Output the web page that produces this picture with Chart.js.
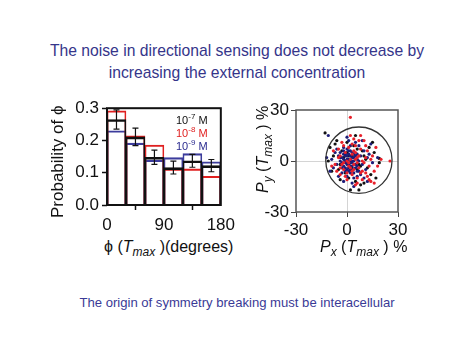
<!DOCTYPE html>
<html lang="en">
<head>
  <meta charset="UTF-8" />
  <title>Directional sensing noise</title>
  <script src="https://cdn.jsdelivr.net/npm/chart.js"></script>
  <style>
    html, body { margin: 0; padding: 0; background: #fff; }
    body { width: 474px; height: 355px; position: relative; overflow: hidden; font-family: "Liberation Sans", Arial, sans-serif; }
    .title { position: absolute; left: 0; top: 40px; width: 474px; text-align: center; color: #35358a; font-size: 15.7px; line-height: 22px; }
    .footer { position: absolute; left: 0; top: 295px; width: 474px; text-align: center; color: #3a3a96; font-size: 13.1px; }
    .lbl { position: absolute; color: #111; font-size: 15px; white-space: nowrap; }
    .lbl sub { font-size: 12px; }
    .rot { transform-origin: left top; transform: rotate(-90deg); }
    .leg { position: absolute; left: 176px; font-size: 11px; line-height: 12px; }
    .leg sup { font-size: 8px; }
    canvas { position: absolute; }
  </style>
</head>
<body>
  <div class="title">The noise in directional sensing does not decrease by<br>increasing the external concentration</div>

  <canvas id="histChart" style="left:40px; top:95px; width:200px; height:140px;" width="200" height="140"></canvas>
  <canvas id="scatterChart" style="left:255px; top:95px; width:160px; height:145px;" width="160" height="145"></canvas>

  <!-- axis titles -->
  <div class="lbl rot" style="left:48px; top:218px; font-size:17px;">Probability of ϕ</div>
  <div class="lbl" style="left:104px; top:238px; font-size:16px;">ϕ (<i>T<sub>max</sub></i> )(degrees)</div>
  <div class="lbl rot" style="left:254px; top:193px; font-size:16px;"><i>P<sub>y</sub></i> (<i>T<sub>max</sub></i> ) %</div>
  <div class="lbl" style="left:320px; top:238px; font-size:16px;"><i>P<sub>x</sub></i> (<i>T<sub>max</sub></i> ) %</div>

  <div class="leg" style="top:111px; color:#111;">10<sup>-7</sup> M</div>
  <div class="leg" style="top:124px; color:#e02020;">10<sup>-8</sup> M</div>
  <div class="leg" style="top:137px; color:#2b2b8f;">10<sup>-9</sup> M</div>

  <div class="footer">The origin of symmetry breaking must be interacellular</div>

  <script>
    // histogram of phi(Tmax), 30 degree bins
    const binCenters = [15, 45, 75, 105, 135, 165];
    const prob7 = [0.265, 0.211, 0.148, 0.116, 0.137, 0.122];   // 10^-7 M
    const err7  = [0.030, 0.027, 0.022, 0.020, 0.020, 0.019];
    const prob8 = [0.292, 0.214, 0.186, 0.112, 0.112, 0.089];   // 10^-8 M
    const prob9 = [0.230, 0.192, 0.139, 0.147, 0.159, 0.134];   // 10^-9 M
    const histTicksY = [0, 0.1, 0.2, 0.3];
    const histTicksX = [0, 90, 180];

    // Px, Py (percent) at Tmax
    const pts7 = [[2,-17],[7,-17],[19,-1],[-11,0],[-9,-6],[10,-13],[13,8],[-7,10],[5,15],[-4,-11],[14,-8],[16,5],[0,5],[3,-4],[-3,6],[8,-3],[6,7],[-5,-5],[11,1],[1,-10],[9,6],[-8,3],[4,9],[2,-1],[-1,-7],[12,-4],[-6,12],[17,-10],[15,11],[0,11],[5,-12],[-2,2],[10,3],[7,-2],[3,3],[-10,8],[8,-14],[-4,-2],[1,3],[6,-5],[19,1.5],[-12.9,16.5]];
    const pts8 = [[2,25.7],[25.3,0],[10,12],[8,15],[4,13],[-3,11],[-7,-2],[-5,2],[0,0],[2,-4],[5,5],[7,-4],[9,0],[11,-7],[13,-3],[12,6],[6,-10],[3,-8],[-2,-5],[-4,-8],[1,8],[4,-2],[6,2],[-1,5],[8,7],[10,-1],[14,1],[16,-6],[17,8],[5,-14],[9,-11],[-6,-6],[-8,6],[0,-11],[3,10],[7,3],[2,1],[-3,-2],[1,-3],[4,6],[11,9],[13,-11],[-9,-3],[15,3],[7,12],[-2,9],[0,-7],[6,-1],[3,4],[9,-6],[12,-9],[5,9],[-5,7],[18,-3],[20,1],[16,-13],[-1,-9],[8,-7],[2,15],[11,2],[-4,3],[6,-13],[14,-12],[1,-1],[-2,-1],[4,-5],[3,-6],[-4,-4],[5,1]];
    const pts9 = [[-3,2],[-1,4],[0,1],[1,-2],[2,3],[3,-1],[-2,-3],[4,2],[1,6],[-4,0],[0,-5],[2,-7],[5,-4],[6,1],[-1,-1],[3,5],[-5,3],[-6,-2],[7,-6],[8,3],[2,9],[-2,8],[9,-2],[10,6],[4,-10],[0,-9],[-3,-7],[6,-9],[-7,5],[-8,-4],[1,12],[5,11],[11,-5],[12,2],[-9,1],[3,0],[-1,3],[0,-2],[2,-3],[4,4],[-2,1],[1,1],[3,2],[-3,-1],[5,-2],[2,6],[-4,5],[6,-6],[8,-8],[-6,7],[14,10],[15,-1],[10,-10],[-10,-6],[0,14],[7,9],[-5,-9],[3,-13],[9,12],[12,-12],[-12,2],[-11,15],[18,2],[13,4],[4,-15],[-2,-12],[1,-6],[-1,-4],[7,0],[6,4],[0,3],[-1,0],[1,-4],[2,-1],[3,-3],[-2,4],[4,0],[0,-1],[-3,-4],[2,1],[5,3],[-1,-6],[1,4],[3,-5],[-4,2],[6,-3],[2,-5],[-2,6],[4,-7],[0,7]];
    const circleCenter = [7, 0.5];
    const circleRadius = 19.5;
    const scatterTicks = [-30, 0, 30];

    const tickFont = { family: 'Liberation Sans', size: 17 };

    // box around the plot area
    const framePlugin = {
      id: 'frame',
      afterDatasetsDraw(chart, args, opts) {
        const a = chart.chartArea, ctx = chart.ctx;
        ctx.save();
        ctx.strokeStyle = opts.color;
        ctx.lineWidth = opts.width;
        ctx.strokeRect(a.left, a.top, a.right - a.left, a.bottom - a.top);
        ctx.restore();
      }
    };

    // error bars on the 10^-7 M histogram
    const errorBarPlugin = {
      id: 'errbars',
      afterDatasetsDraw(chart) {
        const xs = chart.scales.x, ys = chart.scales.y, ctx = chart.ctx;
        ctx.save();
        ctx.strokeStyle = '#111';
        ctx.lineWidth = 1.2;
        binCenters.forEach((c, i) => {
          const x = xs.getPixelForValue(c);
          const y1 = ys.getPixelForValue(prob7[i] - err7[i]);
          const y2 = ys.getPixelForValue(prob7[i] + err7[i]);
          ctx.beginPath();
          ctx.moveTo(x, y1); ctx.lineTo(x, y2);
          ctx.moveTo(x - 3, y1); ctx.lineTo(x + 3, y1);
          ctx.moveTo(x - 3, y2); ctx.lineTo(x + 3, y2);
          ctx.stroke();
        });
        ctx.restore();
      }
    };

    // circle around the scatter cloud
    const circlePlugin = {
      id: 'circle',
      afterDatasetsDraw(chart) {
        const xs = chart.scales.x, ys = chart.scales.y, ctx = chart.ctx;
        const cx = xs.getPixelForValue(circleCenter[0]);
        const cy = ys.getPixelForValue(circleCenter[1]);
        const rx = Math.abs(xs.getPixelForValue(circleCenter[0] + circleRadius) - cx);
        const ry = Math.abs(ys.getPixelForValue(circleCenter[1] + circleRadius) - cy);
        ctx.save();
        ctx.strokeStyle = '#333';
        ctx.lineWidth = 1.3;
        ctx.beginPath();
        ctx.ellipse(cx, cy, rx, ry, 0, 0, Math.PI * 2);
        ctx.stroke();
        ctx.restore();
      }
    };

    function barSet(label, vals, color, top) {
      return {
        label: label,
        data: binCenters.map((c, i) => ({ x: c, y: vals[i] })),
        backgroundColor: 'transparent',
        borderColor: color,
        borderWidth: { top: top, left: 1, right: 1, bottom: 0 },
        borderSkipped: false,
        grouped: false,
        barPercentage: 1,
        categoryPercentage: 1
      };
    }

    new Chart(document.getElementById('histChart'), {
      type: 'bar',
      data: {
        datasets: [
          barSet('10^-7 M', prob7, '#111', 2),
          barSet('10^-8 M', prob8, '#e02020', 1.5),
          barSet('10^-9 M', prob9, '#3c3c9c', 1.5)
        ]
      },
      options: {
        responsive: false,
        animation: false,
        layout: { padding: { top: 13, right: 10, left: 0, bottom: 0 } },
        plugins: { legend: { display: false }, tooltip: { enabled: false }, frame: { color: '#111', width: 2 } },
        scales: {
          x: {
            type: 'linear', min: 0, max: 180, offset: false,
            afterBuildTicks: s => { s.ticks = histTicksX.map(v => ({ value: v })); },
            afterFit: s => { s.height = 30; },
            ticks: { font: tickFont, color: '#111', padding: 5, maxRotation: 0 },
            grid: { drawOnChartArea: false, tickLength: 5, tickColor: '#111', tickWidth: 1.5 },
            border: { display: false }
          },
          y: {
            min: 0, max: 0.3,
            afterBuildTicks: s => { s.ticks = histTicksY.map(v => ({ value: v })); },
            afterFit: s => { s.width = 67; },
            ticks: { font: tickFont, color: '#111', padding: 3, callback: v => v.toFixed(1) },
            grid: { drawOnChartArea: false, tickLength: 5, tickColor: '#111', tickWidth: 1.5 },
            border: { display: false }
          }
        }
      },
      plugins: [framePlugin, errorBarPlugin]
    });

    const toXY = arr => arr.map(p => ({ x: p[0], y: p[1] }));
    function dotSet(label, arr, color) {
      return { label: label, data: toXY(arr), backgroundColor: color, borderWidth: 0, pointRadius: 1.6 };
    }
    const zeroGrid = ctx => (ctx.tick && ctx.tick.value === 0) ? '#d4d4d4' : 'transparent';

    new Chart(document.getElementById('scatterChart'), {
      type: 'scatter',
      data: {
        datasets: [
          dotSet('10^-8 M', pts8, '#e8202a'),
          dotSet('10^-9 M', pts9, '#1c1c78'),
          dotSet('10^-7 M', pts7, '#111')
        ]
      },
      options: {
        responsive: false,
        animation: false,
        layout: { padding: { top: 15, right: 17, left: 0, bottom: 0 } },
        plugins: { legend: { display: false }, tooltip: { enabled: false }, frame: { color: '#555', width: 1.5 } },
        scales: {
          x: {
            min: -30, max: 30,
            afterBuildTicks: s => { s.ticks = scatterTicks.map(v => ({ value: v })); },
            afterFit: s => { s.height = 28; },
            ticks: { font: tickFont, color: '#111', padding: 3, maxRotation: 0 },
            grid: { color: zeroGrid, tickLength: 5, tickColor: '#444' },
            border: { display: false }
          },
          y: {
            min: -30, max: 30,
            afterBuildTicks: s => { s.ticks = scatterTicks.map(v => ({ value: v })); },
            afterFit: s => { s.width = 41; },
            ticks: { font: tickFont, color: '#111', padding: 2 },
            grid: { color: zeroGrid, tickLength: 5, tickColor: '#444' },
            border: { display: false }
          }
        }
      },
      plugins: [framePlugin, circlePlugin]
    });
  </script>
</body>
</html>
